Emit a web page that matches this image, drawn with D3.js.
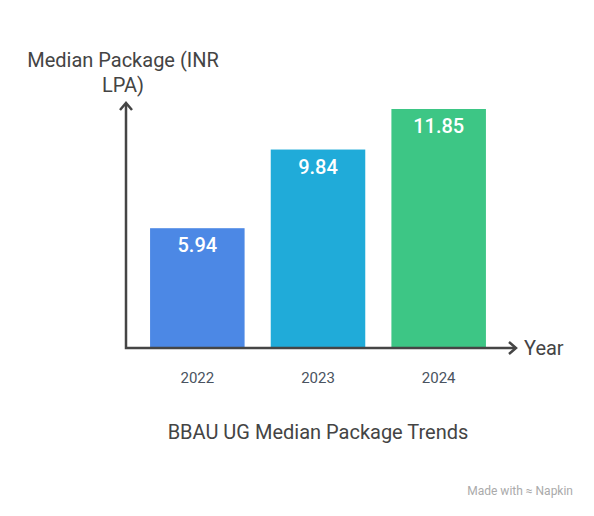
<!DOCTYPE html>
<html>
<head>
<meta charset="utf-8">
<script src="https://cdn.jsdelivr.net/npm/d3@7"></script>
<style>
  body { margin: 0; background: #fff; }
  text { font-family: Roboto, "Noto Sans", sans-serif; }
</style>
</head>
<body>
<svg id="chart" width="594" height="516"></svg>
<script>
const years = ["2022", "2023", "2024"];
const medians = [5.94, 9.84, 11.85];
const barColors = ["#4C88E5", "#20ABD9", "#3DC685"];

const svg = d3.select("#chart");
const axisColor = "#454545";

// plot area
const x0 = 126, yBase = 348;

const x = d3.scaleBand()
    .domain(years)
    .range([138, 498])
    .paddingInner(26 / 120)
    .paddingOuter(0.1);

const y = d3.scaleLinear()
    .domain([0, 11.85])
    .range([yBase, 109]);

svg.selectAll("rect.bar")
    .data(years)
    .enter().append("rect")
    .attr("class", "bar")
    .attr("x", d => x(d))
    .attr("y", (d, i) => y(medians[i]))
    .attr("width", x.bandwidth())
    .attr("height", (d, i) => yBase - y(medians[i]))
    .attr("fill", (d, i) => barColors[i]);

svg.selectAll("text.val")
    .data(years)
    .enter().append("text")
    .attr("class", "val")
    .attr("x", d => x(d) + x.bandwidth() / 2)
    .attr("y", (d, i) => y(medians[i]) + 24)
    .attr("text-anchor", "middle")
    .attr("fill", "#fff")
    .attr("font-size", 20)
    .attr("font-weight", 500)
    .text((d, i) => medians[i].toFixed(2));

// axes
svg.append("path")
    .attr("d", `M${x0},104 L${x0},${yBase} L515,${yBase}`)
    .attr("fill", "none")
    .attr("stroke", axisColor)
    .attr("stroke-width", 2.5);
svg.append("path")
    .attr("d", `M${x0 - 6},110 L${x0},103 L${x0 + 6},110`)
    .attr("fill", "none")
    .attr("stroke", axisColor)
    .attr("stroke-width", 2.5);
svg.append("path")
    .attr("d", `M509,${yBase - 6} L516,${yBase} L509,${yBase + 6}`)
    .attr("fill", "none")
    .attr("stroke", axisColor)
    .attr("stroke-width", 2.5);

const xAxis = svg.append("g")
    .attr("transform", "translate(0," + (yBase + 35) + ")")
    .call(d3.axisBottom(x).tickSize(0).tickPadding(0));
xAxis.select(".domain").remove();
xAxis.selectAll("text")
    .attr("dy", 0)
    .attr("font-size", 15)
    .attr("font-family", "Roboto, sans-serif")
    .attr("fill", "#4A5360");

svg.append("text")
    .attr("x", 524)
    .attr("y", 355)
    .attr("font-size", 20)
    .attr("fill", "#444")
    .text("Year");

svg.append("text")
    .attr("x", 123)
    .attr("y", 67)
    .attr("text-anchor", "middle")
    .attr("font-size", 20)
    .attr("fill", "#444")
    .text("Median Package (INR");
svg.append("text")
    .attr("x", 123)
    .attr("y", 92)
    .attr("text-anchor", "middle")
    .attr("font-size", 20)
    .attr("fill", "#444")
    .text("LPA)");

svg.append("text")
    .attr("x", 318)
    .attr("y", 439)
    .attr("text-anchor", "middle")
    .attr("font-size", 20)
    .attr("fill", "#444")
    .text("BBAU UG Median Package Trends");

svg.append("text")
    .attr("x", 573)
    .attr("y", 495)
    .attr("text-anchor", "end")
    .attr("font-size", 12)
    .attr("fill", "#aaa")
    .text("Made with \u2248 Napkin");
</script>
</body>
</html>
